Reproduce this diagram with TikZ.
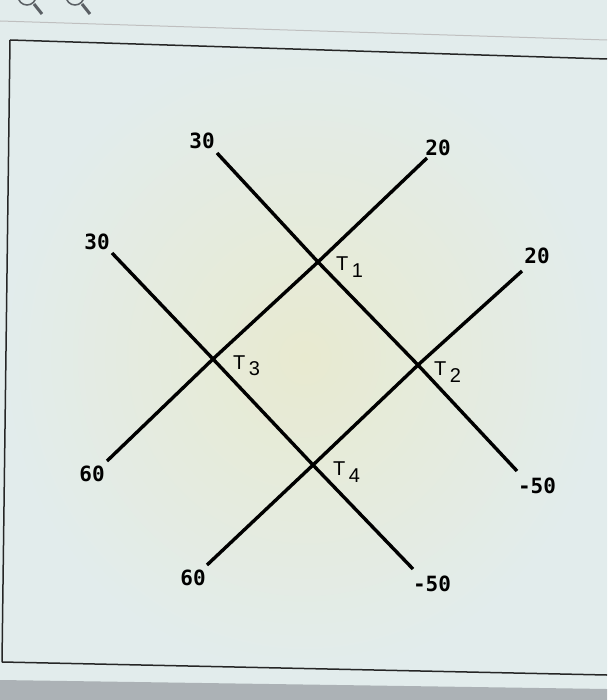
\documentclass[tikz,border=0pt]{standalone}
\usepackage{fontspec}
\newfontfamily\digitfont{DejaVu Sans Mono}
\newfontfamily\tfont{Liberation Sans}
\definecolor{screenbg}{RGB}{226,236,236}
\definecolor{screenmid}{RGB}{232,234,208}
\definecolor{bandgray}{RGB}{172,178,182}
\definecolor{icongray}{RGB}{90,95,100}
\begin{document}
\begin{tikzpicture}[x=1pt,y=-1pt,
  wire/.style={line width=3.4pt,black},
  numlabel/.style={font=\digitfont\bfseries\fontsize{21}{21}\selectfont,inner sep=0pt},
  tlabel/.style={font=\tfont\fontsize{20}{20}\selectfont,inner sep=0pt,anchor=west}]
\useasboundingbox (0,0) rectangle (607,700);
% background
\fill[screenbg] (0,0) rectangle (607,700);
\shade[inner color=screenmid,outer color=screenbg] (10,40) -- (607,59) -- (607,675) -- (2,662) -- cycle;
\fill[bandgray] (0,680) -- (607,689) -- (607,700) -- (0,700) -- cycle;
\draw[black!25,line width=1pt] (0,21) -- (607,40);
% toolbar icons
\begin{scope}
\clip (0,0) rectangle (607,700);
\draw[icongray,line width=1.5pt] (27,-4) circle[radius=9];
\draw[icongray,line width=3pt] (34,4) -- (42,14);
\draw[icongray,line width=1.5pt] (75,-4) circle[radius=9];
\draw[icongray,line width=3pt] (82,4) -- (90,14);
\end{scope}
% frame
\draw[black!85,line width=1.5pt] (10,40) -- (607,59);
\draw[black!85,line width=1.5pt] (10,40) -- (2,662);
\draw[black!85,line width=1.5pt] (2,662) -- (607,675);
% coordinates
\coordinate (A0) at (217,153);
\coordinate (A1) at (517,471);
\coordinate (B0) at (112,253);
\coordinate (B1) at (413,569);
\coordinate (C0) at (107,461);
\coordinate (C1) at (427,158);
\coordinate (D0) at (207,565);
\coordinate (D1) at (522,271);
\coordinate (T1) at (318,262);
\coordinate (T2) at (418,365);
\coordinate (T3) at (213,359);
\coordinate (T4) at (313,465);
% lines
\draw[wire] (A0) -- (T1) -- (T2) -- (A1);
\draw[wire] (B0) -- (T3) -- (T4) -- (B1);
\draw[wire] (C0) -- (T3) -- (T1) -- (C1);
\draw[wire] (D0) -- (T4) -- (T2) -- (D1);
% end labels
\node[numlabel] (lA0) at (202,141) {30};
\node[numlabel] (lB0) at (97,242) {30};
\node[numlabel] (lC1) at (438,148) {20};
\node[numlabel] (lD1) at (537,256) {20};
\node[numlabel] (lC0) at (92,474) {60};
\node[numlabel] (lD0) at (193,578) {60};
\node[numlabel] (lA1) at (537,486) {-50};
\node[numlabel] (lB1) at (432,584) {-50};
% intersection labels
\node[tlabel] (nT1) at (336,267) {T\,\raisebox{-0.6ex}{1}};
\node[tlabel] (nT2) at (434,372) {T\,\raisebox{-0.6ex}{2}};
\node[tlabel] (nT3) at (233,366) {T\,\raisebox{-0.6ex}{3}};
\node[tlabel] (nT4) at (333,472) {T\,\raisebox{-0.6ex}{4}};
\end{tikzpicture}
\end{document}
